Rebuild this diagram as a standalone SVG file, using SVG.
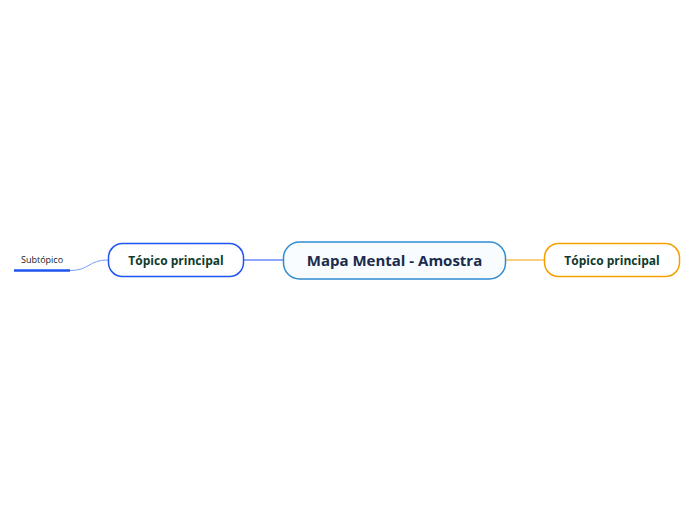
<svg xmlns="http://www.w3.org/2000/svg" width="696" height="520" viewBox="0 0 696 520">
<style>
.main{font-family:"Open Sans","Noto Sans",sans-serif;font-weight:bold;font-size:15px;fill:#1a2b4c;text-anchor:middle}
.topic{font-family:"Open Sans","Noto Sans",sans-serif;font-weight:bold;font-size:12px;fill:#0e3b2c;text-anchor:middle}
.sub{font-family:"Open Sans","Noto Sans",sans-serif;font-size:9px;fill:#222}
</style>
<rect width="696" height="520" fill="#ffffff"/>
<g id="connectors" fill="none">
<line x1="244" y1="260" x2="283" y2="260" stroke="#1f55f0" stroke-width="1.2"/>
<line x1="506" y1="260" x2="544" y2="260" stroke="#f5a000" stroke-width="1.2"/>
<path d="M70,270.5 C90,270.5 88,260 108,260" stroke="#7a9cf5" stroke-width="1"/>
</g>
<g id="center">
<rect x="283.5" y="242" width="222" height="37" rx="16" fill="#f8fcfe" stroke="#2e8bd0" stroke-width="1.5"/>
<text class="main" x="394.5" y="266">Mapa Mental - Amostra</text>
</g>
<g id="topic-left">
<rect x="108.5" y="243.5" width="135" height="33" rx="14" fill="#ffffff" stroke="#1f55f0" stroke-width="1.5"/>
<text class="topic" x="176" y="265">Tópico principal</text>
</g>
<g id="topic-right">
<rect x="544.5" y="243.5" width="135" height="33" rx="14" fill="#ffffff" stroke="#f5a000" stroke-width="1.5"/>
<text class="topic" x="612" y="265">Tópico principal</text>
</g>
<g id="subtopic">
<text class="sub" x="21" y="263">Subtópico</text>
<line x1="14" y1="270.5" x2="70" y2="270.5" stroke="#1f55f0" stroke-width="2.5"/>
</g>
</svg>
